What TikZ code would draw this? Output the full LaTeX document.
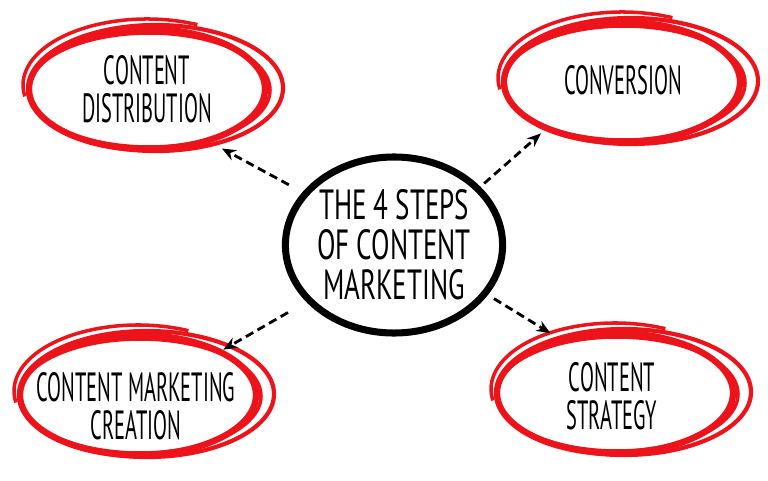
\documentclass[tikz,border=0pt]{standalone}
\usepackage{fontspec}
\usetikzlibrary{shapes.geometric, arrows.meta}
\newfontfamily\handfont[FakeStretch=0.5]{PT Sans}
\newfontfamily\bighandfont[FakeStretch=0.64]{PT Sans}
\definecolor{penred}{RGB}{236,20,26}
\tikzset{>={Stealth[length=10pt,width=8pt]}}

% hand drawn red loops round a ring node
\newcommand{\scribble}[1]{%
  \draw[penred, line width=4.5pt] (#1.center) ellipse (118 and 60);
  \draw[penred, line width=3pt] ([shift={(9,-1)}]#1.center) ellipse (127 and 63);
  \draw[penred, line width=2.5pt] ([shift={(2,1)}]#1.center) ellipse (121 and 57);
  \draw[penred, line width=2.5pt] ([shift={(0,-4)}]#1.center) ++(-66:124 and 66)
    arc[start angle=-66, end angle=-190, x radius=124, y radius=66];
}

\begin{document}
\begin{tikzpicture}[x=0.025cm, y=-0.025cm,
  core/.style={ellipse, draw, line width=5pt, minimum width=5.4cm,
    minimum height=4.4cm, inner sep=0pt, align=center,
    font=\bighandfont\fontsize{30}{28.5}\selectfont},
  ring/.style={ellipse, minimum width=6.2cm, minimum height=3.1cm, inner sep=0pt},
  caption/.style={align=center, font=\handfont\fontsize{29}{27}\selectfont},
  link/.style={->, line width=2pt, dash pattern=on 6pt off 3.5pt}]
    \useasboundingbox (0,0) rectangle (768,480);

    \node[core] (core) at (394,245) {THE 4 STEPS\\OF CONTENT\\MARKETING};

    \node[ring] (dist) at (147,89) {};
    \node[ring] (conv) at (622,82) {};
    \node[ring] (creat) at (138,395) {};
    \node[ring] (strat) at (615,393) {};
    \scribble{dist}
    \scribble{conv}
    \scribble{creat}
    \scribble{strat}

    \node[caption] at (147,89) {CONTENT\\DISTRIBUTION};
    \node[caption] at (623,80) {CONVERSION};
    \node[caption] at (136,406) {CONTENT MARKETING\\CREATION};
    \node[caption] at (612,396) {CONTENT\\STRATEGY};

    \draw[link, shorten <=11pt, shorten >=9pt] (core.150) -- (dist.320);
    \draw[link, shorten <=3.5pt, shorten >=3pt] (core.34) -- (conv.212);
    \draw[link, shorten <=15pt] (core.213) -- (creat.28);
    \draw[link, shorten <=5pt, shorten >=6pt] (core.332) -- (strat.136);
\end{tikzpicture}
\end{document}
